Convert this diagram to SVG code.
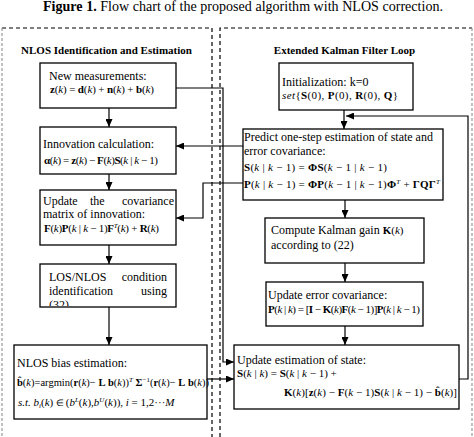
<svg xmlns="http://www.w3.org/2000/svg" width="474" height="437" viewBox="0 0 474 437">
<style>
text{font-family:"Liberation Serif","Times New Roman",serif;fill:#000}
.t{font-size:12px}
.f{font-size:11px}
.h{font-size:11px;font-weight:bold}
.b{font-weight:bold;font-style:normal}
.i{font-style:italic}
.box{fill:#fff;stroke:#000;stroke-width:1.3}
.pan{fill:none;stroke:#000;stroke-width:1.2;stroke-dasharray:4 3}
.pang{fill:none;stroke:#999;stroke-width:1.2;stroke-dasharray:3 2}
.c{fill:none;stroke:#000;stroke-width:1.2}
.sup{font-size:7px}
</style>
<defs>
<marker id="ah" markerWidth="8" markerHeight="7" refX="8" refY="3.5" orient="auto" markerUnits="userSpaceOnUse">
<path d="M0,0 L8,3.5 L0,7 z" fill="#000"/>
</marker>
<clipPath id="clip4"><rect x="40" y="264" width="136" height="42"/></clipPath>
</defs>
<rect width="474" height="437" fill="#fff"/>

<text x="43" y="11" style="font-size:14px" textLength="400" lengthAdjust="spacingAndGlyphs"><tspan font-weight="bold">Figure 1.</tspan> Flow chart of the proposed algorithm with NLOS correction.</text>

<g id="panels">
<path class="pan" d="M2,28 H212 V437"/>
<path class="pang" d="M2,28 V437"/>
<path class="pan" d="M220,437 V28 H472"/>
<path class="pang" d="M472,28 V437"/>
<text class="h" x="106.5" y="54" text-anchor="middle">NLOS Identification and Estimation</text>
<text class="h" x="344.5" y="54" text-anchor="middle">Extended Kalman Filter Loop</text>
</g>

<g id="connectors">
<path class="c" d="M109,108 V127" marker-end="url(#ah)"/>
<path class="c" d="M109,174 V190" marker-end="url(#ah)"/>
<path class="c" d="M109,245 V264" marker-end="url(#ah)"/>
<path class="c" d="M109,307 V345" marker-end="url(#ah)"/>
<path class="c" d="M344,110 V129" marker-end="url(#ah)"/>
<path class="c" d="M345,200 V218" marker-end="url(#ah)"/>
<path class="c" d="M345,263 V282" marker-end="url(#ah)"/>
<path class="c" d="M345,326 V345" marker-end="url(#ah)"/>
<path class="c" d="M459,379 H468 V116 H346" marker-end="url(#ah)"/>
<path class="c" d="M176,88 H223 V362 H234" marker-end="url(#ah)"/>
<path class="c" d="M207,379 H234" marker-end="url(#ah)"/>
<path class="c" d="M243,146 H176" marker-end="url(#ah)"/>
<path class="c" d="M243,183 H203 V218 H176" marker-end="url(#ah)"/>
</g>

<g id="new-measurements">
<rect class="box" x="40" y="63" width="136" height="45"/>
<text class="t" x="49" y="80">New measurements:</text>
<text class="f" x="50" y="93" textLength="104" lengthAdjust="spacing"><tspan class="b">z</tspan>(<tspan class="i">k</tspan>) = <tspan class="b">d</tspan>(<tspan class="i">k</tspan>) + <tspan class="b">n</tspan>(<tspan class="i">k</tspan>) + <tspan class="b">b</tspan>(<tspan class="i">k</tspan>)</text>
</g>

<g id="innovation">
<rect class="box" x="40" y="127" width="136" height="47"/>
<text class="t" x="43" y="148">Innovation calculation:</text>
<text class="f" x="44" y="164" textLength="114" lengthAdjust="spacing"><tspan class="b">α</tspan>(<tspan class="i">k</tspan>) = <tspan class="b">z</tspan>(<tspan class="i">k</tspan>) − <tspan class="b">F</tspan>(<tspan class="i">k</tspan>)<tspan class="b">S</tspan>(<tspan class="i">k</tspan> | <tspan class="i">k</tspan> − 1)</text>
</g>

<g id="covariance">
<rect class="box" x="40" y="190" width="136" height="55"/>
<text class="t" y="205"><tspan x="43">Update</tspan><tspan x="90">the</tspan><tspan x="174" text-anchor="end">covariance</tspan></text>
<text class="t" x="43" y="218">matrix of innovation:</text>
<text class="f" x="44" y="232" textLength="115" lengthAdjust="spacing"><tspan class="b">F</tspan>(<tspan class="i">k</tspan>)<tspan class="b">P</tspan>(<tspan class="i">k</tspan> | <tspan class="i">k</tspan> − 1)<tspan class="b">F</tspan><tspan class="sup i" dy="-4">T</tspan><tspan dy="4">(</tspan><tspan class="i">k</tspan>) + <tspan class="b">R</tspan>(<tspan class="i">k</tspan>)</text>
</g>

<g id="los-nlos">
<rect class="box" x="40" y="264" width="136" height="43"/>
<text class="t" y="281"><tspan x="49">LOS/NLOS</tspan><tspan x="167" text-anchor="end">condition</tspan></text>
<text class="t" y="295"><tspan x="49">identification</tspan><tspan x="167" text-anchor="end">using</tspan></text>
<text class="t" x="49" y="309" clip-path="url(#clip4)">(32)</text>
</g>

<g id="nlos-bias">
<rect class="box" x="14" y="345" width="193" height="74"/>
<text class="t" x="17" y="367">NLOS bias estimation:</text>
<text x="17" y="386" style="font-size:10.5px"><tspan class="b">b̂</tspan>(<tspan class="i">k</tspan>)=argmin(<tspan class="b">r</tspan>(<tspan class="i">k</tspan>)− <tspan class="b">L</tspan> <tspan class="b">b</tspan>(<tspan class="i">k</tspan>))<tspan class="sup i" dy="-4">T</tspan><tspan dy="4" class="b"> Σ</tspan><tspan class="sup" dy="-4">−1</tspan><tspan dy="4">(</tspan><tspan class="b">r</tspan>(<tspan class="i">k</tspan>)− <tspan class="b">L</tspan> <tspan class="b">b</tspan>(<tspan class="i">k</tspan>))</text>
<text x="18" y="406" style="font-size:11px"><tspan class="i">s.t.</tspan>   <tspan class="i">b</tspan><tspan class="sup i" dy="2">i</tspan><tspan dy="-2">(</tspan><tspan class="i">k</tspan>)<tspan style="font-size:9px"> ∈ </tspan>(<tspan class="i">b</tspan><tspan class="sup i" dy="-4">L</tspan><tspan dy="4">(</tspan><tspan class="i">k</tspan>),<tspan class="i">b</tspan><tspan class="sup i" dy="-4">U</tspan><tspan dy="4">(</tspan><tspan class="i">k</tspan>)),    <tspan class="i">i</tspan> = 1,2···<tspan class="i">M</tspan></text>
</g>

<g id="initialization">
<rect class="box" x="279" y="63" width="134" height="47"/>
<text class="t" x="282" y="86">Initialization: k=0</text>
<text class="f" x="282" y="99" textLength="116" lengthAdjust="spacing"><tspan class="i">set</tspan>{<tspan class="b">S</tspan>(0), <tspan class="b">P</tspan>(0), <tspan class="b">R</tspan>(0), <tspan class="b">Q</tspan>}</text>
</g>

<g id="predict">
<rect class="box" x="243" y="129" width="200" height="71"/>
<text class="t" x="244" y="141">Predict one-step estimation of state and</text>
<text class="t" x="244" y="155">error covariance:</text>
<text class="f" x="244" y="171" textLength="143" lengthAdjust="spacing"><tspan class="b">S</tspan>(<tspan class="i">k</tspan> | <tspan class="i">k</tspan> − 1) = <tspan class="b">ΦS</tspan>(<tspan class="i">k</tspan> − 1 | <tspan class="i">k</tspan> − 1)</text>
<text class="f" x="244" y="188" textLength="196" lengthAdjust="spacing"><tspan class="b">P</tspan>(<tspan class="i">k</tspan> | <tspan class="i">k</tspan> − 1) = <tspan class="b">ΦP</tspan>(<tspan class="i">k</tspan> − 1 | <tspan class="i">k</tspan> − 1)<tspan class="b">Φ</tspan><tspan class="sup i" dy="-4">T</tspan><tspan dy="4"> + </tspan><tspan class="b">ΓQΓ</tspan><tspan class="sup i" dy="-4">T</tspan></text>
</g>

<g id="kalman-gain">
<rect class="box" x="265" y="218" width="159" height="45"/>
<text class="t" x="271" y="234">Compute Kalman gain <tspan class="f"><tspan class="b">K</tspan>(<tspan class="i">k</tspan>)</tspan></text>
<text class="t" x="271" y="249">according to (22)</text>
</g>

<g id="error-covariance">
<rect class="box" x="266" y="282" width="157" height="44"/>
<text class="t" x="268" y="299">Update error covariance:</text>
<text class="f" x="268" y="313" textLength="152" lengthAdjust="spacing"><tspan class="b">P</tspan>(<tspan class="i">k</tspan> | <tspan class="i">k</tspan>) = [<tspan class="b">I</tspan> − <tspan class="b">K</tspan>(<tspan class="i">k</tspan>)<tspan class="b">F</tspan>(<tspan class="i">k</tspan> − 1)]<tspan class="b">P</tspan>(<tspan class="i">k</tspan> | <tspan class="i">k</tspan> − 1)</text>
</g>

<g id="update-state">
<rect class="box" x="234" y="345" width="225" height="64"/>
<text class="t" x="237" y="364">Update estimation of state:</text>
<text class="f" x="237" y="377"><tspan class="b">S</tspan>(<tspan class="i">k</tspan> | <tspan class="i">k</tspan>) = <tspan class="b">S</tspan>(<tspan class="i">k</tspan> | <tspan class="i">k</tspan> − 1) +</text>
<text class="f" x="284" y="396" textLength="173" lengthAdjust="spacing"><tspan class="b">K</tspan>(<tspan class="i">k</tspan>)[<tspan class="b">z</tspan>(<tspan class="i">k</tspan>) − <tspan class="b">F</tspan>(<tspan class="i">k</tspan> − 1)<tspan class="b">S</tspan>(<tspan class="i">k</tspan> | <tspan class="i">k</tspan> − 1) − <tspan class="b">b̂</tspan>(<tspan class="i">k</tspan>)]</text>
</g>
</svg>
